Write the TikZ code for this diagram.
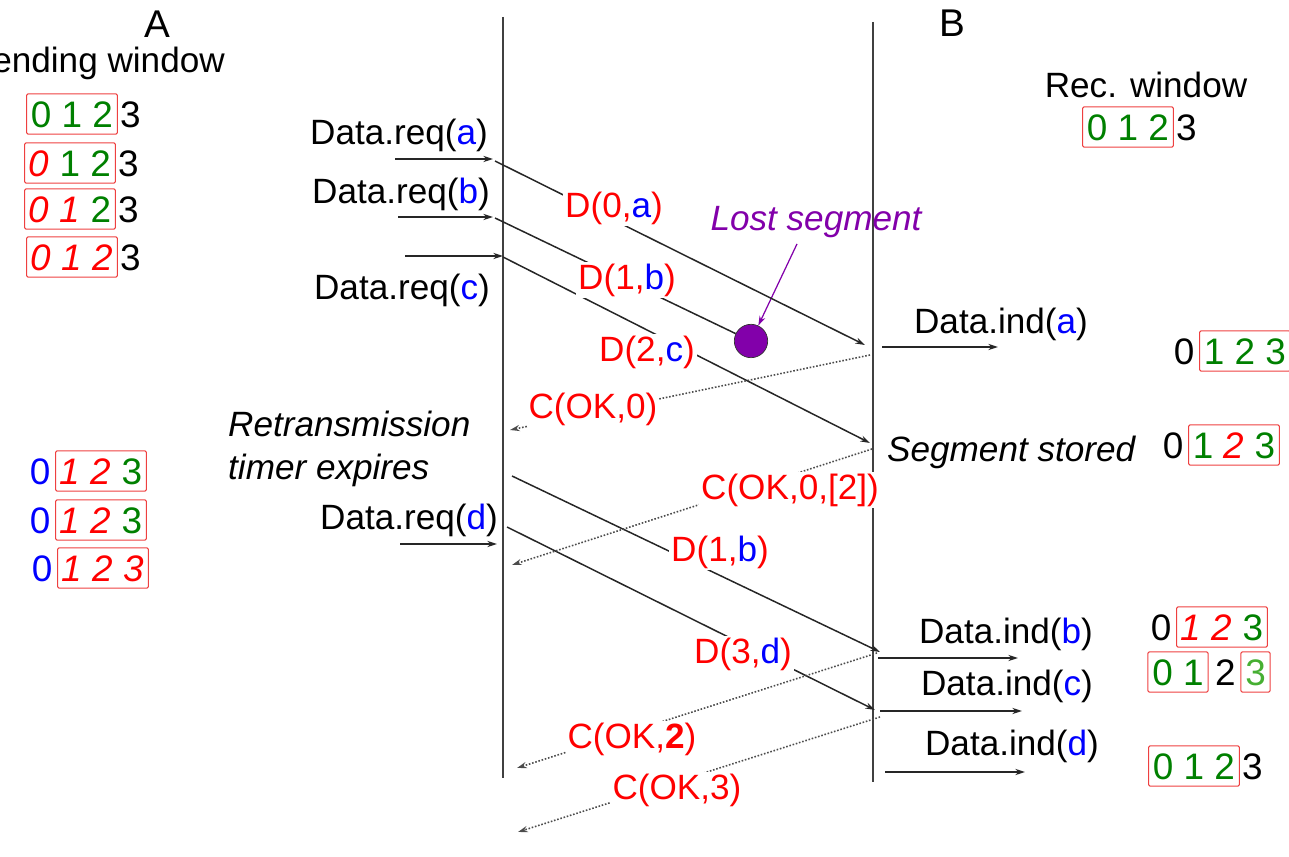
\documentclass[tikz,border=0pt]{standalone}
\usepackage{fontspec}
\setmainfont{Liberation Sans}
\usetikzlibrary{positioning,arrows.meta}

\definecolor{winred}{RGB}{238,64,64}
\definecolor{okgreen}{RGB}{0,128,0}
\definecolor{ltgreen}{RGB}{70,175,50}
\definecolor{losspurple}{RGB}{130,0,170}
\definecolor{lbltext}{RGB}{255,0,0}
\definecolor{idblue}{RGB}{0,0,255}

\newcommand{\gdig}[1]{\textcolor{okgreen}{#1}}
\newcommand{\rdig}[1]{\textcolor{lbltext}{\textit{#1}}}
\newcommand{\bdig}[1]{\textcolor{idblue}{#1}}

\tikzset{
  timeline/.style={draw=black!75, line width=1.1pt},
  msg/.style={draw=black!85, line width=0.85pt, -{Stealth[length=5.5pt,width=3.5pt]}},
  ack/.style={draw=black!70, line width=0.9pt, densely dotted, -{Stealth[length=5.5pt,width=3.5pt]}},
  lbl/.style={fill=white, inner sep=1pt, text=lbltext},
  win/.style={draw=winred, line width=0.6pt, rounded corners=0.8pt, inner xsep=2.5pt, inner ysep=4pt,
    text height=15pt, text depth=0pt, font=\fontsize{21}{24}\selectfont},
  num/.style={inner sep=0pt, text height=15pt, text depth=0pt, font=\fontsize{21}{24}\selectfont},
}

\begin{document}
\begin{tikzpicture}[x=0.02cm, y=-0.02cm, font=\fontsize{20}{24}\selectfont]
\useasboundingbox (0,0) rectangle (1289,857);

%Declare nodes.
\node (A) at (157,24) {\fontsize{22}{26}\selectfont A};
\node (B) at (952,23) {\fontsize{22}{26}\selectfont B};
\node[anchor=east] (sendwin) at (231,63) {Sending window};
\node (recwin) at (1146,85) {Rec. window};

\coordinate (Atop) at (503,17);
\coordinate (Abot) at (503,778);
\coordinate (Btop) at (873,22);
\coordinate (Bbot) at (873,782);

%Sending window of A.
\node[win] (s1) at (72,114) {\gdig{0 1 2}};
\node[num, right=1pt of s1] (s1n) {3};
\node[win] (s2) at (70,163) {\rdig{0} \gdig{1 2}};
\node[num, right=1pt of s2] (s2n) {3};
\node[win] (s3) at (70,209) {\rdig{0 1} \gdig{2}};
\node[num, right=1pt of s3] (s3n) {3};
\node[win] (s4) at (72,257) {\rdig{0 1 2}};
\node[num, right=1pt of s4] (s4n) {3};
\node[win] (s5) at (101,471) {\rdig{1 2} \gdig{3}};
\node[num, left=2.5pt of s5] (s5n) {\bdig{0}};
\node[win] (s6) at (101,520) {\rdig{1 2} \gdig{3}};
\node[num, left=2.5pt of s6] (s6n) {\bdig{0}};
\node[win] (s7) at (103,568) {\rdig{1 2 3}};
\node[num, left=2.5pt of s7] (s7n) {\bdig{0}};

%Receiving window of B.
\node[win] (r0) at (1128,127) {\gdig{0 1 2}};
\node[num, right=1pt of r0] (r0n) {3};
\node[win] (r1) at (1245,351) {\gdig{1 2 3}};
\node[num, left=2.5pt of r1] (r1n) {0};
\node[win] (r2) at (1234,445) {\gdig{1} \rdig{2} \gdig{3}};
\node[num, left=2.5pt of r2] (r2n) {0};
\node[win] (r3) at (1222,627) {\rdig{1 2} \gdig{3}};
\node[num, left=2.5pt of r3] (r3n) {0};
\node[win] (r4) at (1178,672) {\gdig{0 1}};
\node[num, right=3.5pt of r4] (r4n) {2};
\node[win, right=2.5pt of r4n] (r4b) {\textcolor{ltgreen}{3}};
\node[win] (r5) at (1194,766) {\gdig{0 1 2}};
\node[num, right=1pt of r5] (r5n) {3};

%Timelines.
\draw[timeline] (Atop) -- (Abot);
\draw[timeline] (Btop) -- (Btop |- Bbot);

%Requests at A.
\node (reqa) at (399,135) {Data.req(\bdig{a})};
\node (reqb) at (401,194) {Data.req(\bdig{b})};
\node (reqc) at (402,290) {Data.req(\bdig{c})};
\node (reqd) at (409,520) {Data.req(\bdig{d})};
\coordinate (ra0) at (395,159); \coordinate (ra1) at (493,159);
\coordinate (rb0) at (398,217); \coordinate (rb1) at (493,217);
\coordinate (rc0) at (405,256); \coordinate (rc1) at (503,256);
\coordinate (rd0) at (400,544); \coordinate (rd1) at (497,544);
\draw[msg] (ra0) -- (ra1);
\draw[msg] (rb0) -- (rb1);
\draw[msg] (rc0) -- (rc1);
\draw[msg] (rd0) -- (rd1);

%Lost segment.
\node[circle, draw=black!80, fill=losspurple, minimum size=19pt, inner sep=0pt] (loss) at (751,341) {};
\node[text=losspurple, font=\fontsize{20}{24}\selectfont\itshape] (losstxt) at (816,222) {Lost segment};
\draw[draw=losspurple, line width=0.7pt, -{Stealth[length=5.5pt,width=3.5pt]}]
  ([xshift=-0.38cm]losstxt.south) -- (loss);

%Segments.
\coordinate (d0a0) at (495,161); \coordinate (d0a1) at (865,345);
\coordinate (d1b0) at (495,218);
\coordinate (d2c0) at (503,257); \coordinate (d2c1) at (870,443);
\coordinate (e1b0) at (512,476); \coordinate (e1b1) at (880,652);
\coordinate (d3d0) at (507,527); \coordinate (d3d1) at (875,710);
\draw[msg] (d0a0) -- (d0a1);
\draw[draw=black!85, line width=0.85pt] (d1b0) -- (loss);
\draw[msg] (d2c0) -- (d2c1);
\draw[msg] (e1b0) -- (e1b1);
\draw[msg] (d3d0) -- (d3d1);

%Controls.
\coordinate (c00) at (870,355); \coordinate (c01) at (510,430);
\coordinate (c20) at (872,449); \coordinate (c21) at (512,565);
\coordinate (c30) at (877,653); \coordinate (c31) at (517,768);
\coordinate (c40) at (880,717); \coordinate (c41) at (518,832);
\draw[ack] (c00) -- (c01);
\draw[ack] (c20) -- (c21);
\draw[ack] (c30) -- (c31);
\draw[ack] (c40) -- (c41);

%Labels.
\node[lbl] (l0a) at (614,208) {D(0,\bdig{a})};
\node[lbl] (l1b) at (627,280) {D(1,\bdig{b})};
\node[lbl] (l2c) at (647,352) {D(2,\bdig{c})};
\node[lbl] (lc0) at (593,409) {C(OK,0)};
\node[lbl] (lc02) at (790,490) {C(OK,0,[2])};
\node[lbl] (l1b2) at (720,552) {D(1,\bdig{b})};
\node[lbl] (l3d) at (743,654) {D(3,\bdig{d})};
\node[lbl] (lc2) at (632,739) {C(OK,\textbf{2})};
\node[lbl] (lc3) at (677,790) {C(OK,3)};

\node[anchor=west, align=left, font=\fontsize{20}{24.4}\selectfont\itshape] (retx) at (222,449)
  {Retransmission\\timer expires};
\node[anchor=west, font=\fontsize{20}{24}\selectfont\itshape] (stored) at (881,452) {Segment stored};

%Indications at B.
\node (inda) at (1001,324) {Data.ind(\bdig{a})};
\node (indb) at (1006,634) {Data.ind(\bdig{b})};
\node (indc) at (1007,686) {Data.ind(\bdig{c})};
\node (indd) at (1012,746) {Data.ind(\bdig{d})};
\coordinate (ia0) at (882,347); \coordinate (ia1) at (998,347);
\coordinate (ib0) at (878,658); \coordinate (ib1) at (1018,658);
\coordinate (ic0) at (880,711); \coordinate (ic1) at (1022,711);
\coordinate (id0) at (885,772); \coordinate (id1) at (1025,772);
\draw[msg] (ia0) -- (ia1);
\draw[msg] (ib0) -- (ib1);
\draw[msg] (ic0) -- (ic1);
\draw[msg] (id0) -- (id1);

\end{tikzpicture}
\end{document}
